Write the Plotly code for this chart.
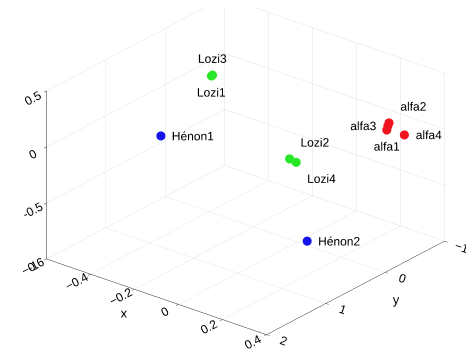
import plotly.graph_objects as go

labels = ["Hénon1", "Hénon2", "Lozi1", "Lozi2", "Lozi3", "Lozi4", "alfa1", "alfa2", "alfa3", "alfa4"]
x_vals = [-0.35, 0.18, -0.39, 0.10, -0.38, 0.13, 0.245, 0.255, 0.25, 0.325]
y_vals = [1.0, 0.5, 0.0, 0.5, 0.02, 0.5, -0.6, -0.6, -0.6, -0.6]
z_vals = [-0.01, -0.73, 0.22, -0.05, 0.24, -0.06, 0.0, 0.07, 0.04, 0.01]
groups = ["Hénon", "Hénon", "Lozi", "Lozi", "Lozi", "Lozi", "alfa", "alfa", "alfa", "alfa"]
text_pos = ["middle right", "middle right", "bottom center", "top right", "top center",
            "bottom right", "bottom center", "top right", "middle left", "middle right"]

group_colors = {"Hénon": "rgb(20,20,235)", "Lozi": "rgb(40,230,40)", "alfa": "rgb(240,20,30)"}

x_ticks = [-0.6, -0.4, -0.2, 0, 0.2, 0.4]
y_ticks = [-1, 0, 1, 2]
z_ticks = [-1, -0.5, 0, 0.5]
z_ticktext = ["-1      ", "-0.5    ", "0    ", "0.5    "]

FONT = "Liberation Sans, Arial"
S = 1.66
cx, cy, cz = 0.0195, -0.0241, -0.0663

fig = go.Figure()
fig.add_trace(go.Scatter3d(
    x=x_vals, y=y_vals, z=z_vals,
    mode="markers+text",
    text=labels,
    textposition=text_pos,
    textfont=dict(family=FONT, size=12, color="black"),
    marker=dict(size=5.3, color=[group_colors[g] for g in groups], line=dict(width=0)),
    showlegend=False,
))

axis_common = dict(
    showbackground=False,
    gridcolor="rgb(225,225,225)",
    gridwidth=1,
    showline=True,
    linecolor="rgb(40,40,40)",
    linewidth=1,
    zeroline=False,
    ticks="outside",
    ticklen=4,
    tickcolor="rgb(40,40,40)",
    tickfont=dict(family=FONT, size=12, color="black"),
    showspikes=False,
    autorange=False,
)

fig.update_layout(
    width=474, height=359,
    margin=dict(l=0, r=0, t=0, b=0),
    paper_bgcolor="white",
    scene=dict(
        domain=dict(x=[0.0325, 0.9715], y=[0.05, 1]),
        xaxis=dict(range=[-0.6, 0.4], tickvals=x_ticks, title=dict(text="x", font=dict(size=13, family=FONT, color="black")), **axis_common),
        yaxis=dict(range=[2, -1], tickvals=y_ticks, title=dict(text="y", font=dict(size=13, family=FONT, color="black")), **axis_common),
        zaxis=dict(range=[-1, 0.5], tickvals=z_ticks, ticktext=z_ticktext, title=dict(text="     z", font=dict(size=13, family=FONT, color="black")), **axis_common),
        aspectmode="manual",
        aspectratio=dict(x=1 * S, y=1 * S, z=0.656 * S),
        camera=dict(
            eye=dict(x=0.569 * 1.5 + cx, y=-0.703 * 1.5 + cy, z=0.425 * 1.5 + cz),
            up=dict(x=0, y=0, z=1),
            center=dict(x=cx, y=cy, z=cz),
            projection=dict(type="orthographic"),
        ),
    ),
)

fig.write_html("out.html")
